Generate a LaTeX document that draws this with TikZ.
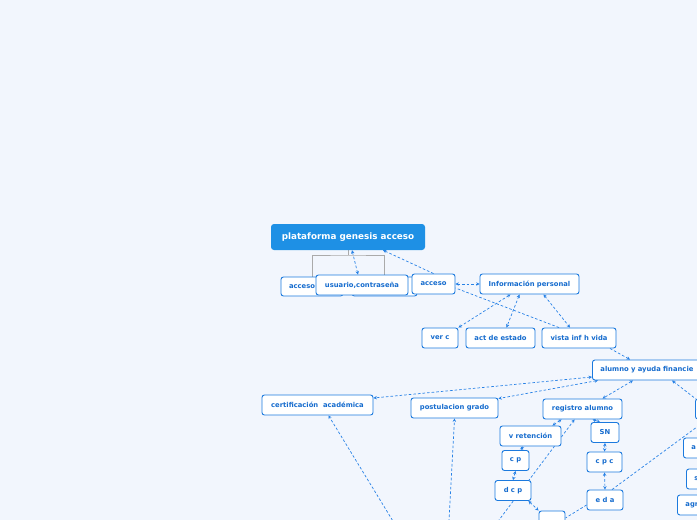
\documentclass[tikz,border=0pt]{standalone}
\usepackage{fontspec}
\setsansfont{DejaVu Sans}
\usetikzlibrary{arrows.meta,calc,positioning}
\definecolor{bgpaper}{RGB}{242,246,253}
\definecolor{rootblue}{RGB}{30,144,229}
\definecolor{boxline}{RGB}{28,122,222}
\definecolor{boxtext}{RGB}{22,108,206}
\definecolor{linkblue}{RGB}{40,130,230}
\definecolor{treegray}{RGB}{170,170,170}
\pgfdeclarelayer{edges}
\pgfsetlayers{edges,main}
\tikzset{
  rootnode/.style={fill=rootblue, rounded corners=3pt, text=white,
    font=\sffamily\bfseries\fontsize{8.8}{10}\selectfont, inner sep=0pt},
  topic/.style={draw=boxline, fill=white, rounded corners=2.5pt, line width=0.9pt,
    text=boxtext, font=\sffamily\bfseries\fontsize{6.8}{8}\selectfont,
    minimum height=20pt, inner xsep=0pt, inner ysep=0pt},
  link/.style={draw=linkblue, line width=0.7pt, dash pattern=on 2.6pt off 2pt},
  headed/.style={-{Stealth[length=3.4pt,width=3.4pt]}},
  twoway/.style={{Stealth[length=3.4pt,width=3.4pt]}-{Stealth[length=3.4pt,width=3.4pt]}},
  tree/.style={draw=treegray, line width=0.7pt},
}
\begin{document}
\begin{tikzpicture}[x=1pt,y=-1pt]
\useasboundingbox (0,0) rectangle (697,520);
\clip (0,0) rectangle (697,520);
\begin{pgfonlayer}{edges}
\fill[bgpaper] (0,0) rectangle (697,520);
\end{pgfonlayer}

% root and first level
\node[rootnode, minimum width=154pt, minimum height=26pt] (root) at (348,237) {plataforma genesis acceso};
\node[topic, minimum width=62pt, minimum height=19pt, text width=46pt, align=left] (accl) at (312,286.5) {acceso};
\node[topic, minimum width=65pt, minimum height=19pt] (hid) at (384.5,286.5) {};
\node[topic, minimum width=92pt] (usr) at (362,285) {usuario,contraseña};
\node[topic, minimum width=43pt] (accr) at (433.5,284) {acceso};
\node[topic, minimum width=99pt] (info) at (529.5,284) {Información personal};
\node[topic, minimum width=36pt] (verc) at (440,338) {ver c};
\node[topic, minimum width=69pt] (act) at (500.5,338) {act de estado};
\node[topic, minimum width=74pt] (vista) at (579,338) {vista inf h vida};

% alumno branch
\node[topic, anchor=west, minimum width=115pt, text width=99pt, align=left] (alum) at (592,370) {alumno y ayuda financie};
\node[topic, minimum width=111pt] (cert) at (317.5,405) {certificación\ \ académica};
\node[topic, minimum width=87pt] (post) at (454.5,408) {postulacion grado};
\node[topic, minimum width=79pt] (reg) at (582.5,409) {registro alumno};
\node[topic, minimum width=61pt] (vret) at (530.5,436) {v retención};
\node[topic, minimum width=28pt] (sn) at (605,432.5) {SN};
\node[topic, minimum width=27pt] (cp) at (515.5,460.5) {c p};
\node[topic, minimum width=35pt] (cpc) at (604.5,462) {c p c};
\node[topic, minimum width=36pt] (dcp) at (513,490.5) {d c p};
\node[topic, minimum width=36pt] (eda) at (605,500) {e d a};
\node[topic, minimum width=26pt] (bot) at (552,521) {};

% boxes cut by the right edge
\node[topic, anchor=west, minimum width=40pt] (rtop) at (695,409) {};
\node[topic, anchor=west, minimum width=40pt, text width=24pt, align=left] (ra) at (683,448) {a};
\node[topic, anchor=west, minimum width=40pt, text width=24pt, align=left] (rs) at (686,479) {s};
\node[topic, anchor=west, minimum width=40pt, text width=24pt, align=left] (ragr) at (677,505) {agr};

\coordinate (fork) at (348,255);
\coordinate (offr) at (705,406);
\coordinate (offd) at (484,540);
\coordinate (offa) at (720,410);
\coordinate (offc) at (404.5,540);
\coordinate (offp) at (448,540);

\begin{pgfonlayer}{edges}
\draw[tree] (root.south) -- (fork);
\draw[tree] (accl.north) |- (fork) -| (hid.north);
\draw[link,twoway] ([xshift=4pt]root.south) -- ([xshift=-4pt]usr.north);
\draw[link,headed] (accr.north) -- ([xshift=35pt]root.south);
\draw[link,twoway] (accr.east) -- (info.west);
\draw[link] ([xshift=-20pt]vista.north) -- ([yshift=-4pt]accr.east);
\draw[link,twoway] ([xshift=-19pt]info.south) -- (verc.north east);
\draw[link,twoway] ([xshift=-10pt]info.south) -- ([xshift=6pt]act.north);
\draw[link,twoway] ([xshift=14pt]info.south) -- ([xshift=-9pt]vista.north);
\draw[link,headed] ([xshift=31pt]vista.south) -- ([xshift=38pt]alum.north west);
\draw[link,twoway] ([yshift=-7pt]alum.west) -- ([yshift=7pt]cert.east);
\draw[link,twoway] ([xshift=6pt]alum.south west) -- ([yshift=-1pt]post.north east);
\draw[link,twoway] ([xshift=41pt]alum.south west) -- ([xshift=20pt]reg.north);
\draw[link,twoway] ([xshift=80pt]alum.south west) -- (offr);
\draw[link,twoway] ([xshift=19pt]reg.south west) -- ([xshift=-9pt]vret.north east);
\draw[link,headed] (offd) -- ([xshift=32pt]reg.south west); % runs under d c p
\draw[link,twoway] ([xshift=10pt]reg.south) -- ([xshift=-5pt]sn.north);
\draw[link,twoway] ([xshift=-8pt]vret.south) -- ([xshift=6pt]cp.north);
\draw[link,twoway] (sn.south) -- (cpc.north);
\draw[link,twoway] (cp.south) -- (dcp.north);
\draw[link,twoway] (cpc.south) -- (eda.north);
\draw[link,twoway] ([xshift=-3pt]dcp.south east) -- (bot.north west);
\draw[link] ([yshift=-5pt]eda.west) -- ([yshift=3pt]bot.east);
\draw[link] ([xshift=7pt]eda.north) -- (offa);
\draw[link,headed] (offc) -- ([xshift=11pt]cert.south);
\draw[link,headed] (offp) -- (post.south);
\end{pgfonlayer}
\end{tikzpicture}
\end{document}
